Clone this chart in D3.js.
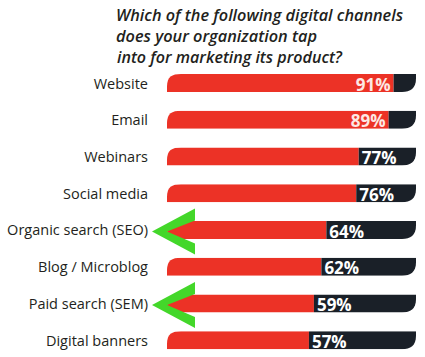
<!DOCTYPE html>
<html>
<head>
<meta charset="utf-8">
<script src="https://cdn.jsdelivr.net/npm/d3@7/dist/d3.min.js"></script>
<style>
html,body{margin:0;padding:0;background:#fff;}
svg{display:block;}
</style>
</head>
<body>
<svg id="chart" width="425" height="357"></svg>
<script>
const titleLines = [
  "Which of the following digital channels",
  "does your organization tap",
  "into for marketing its product?"
];
const categories = ["Website","Email","Webinars","Social media","Organic search (SEO)","Blog / Microblog","Paid search (SEM)","Digital banners"];
const values = [91, 89, 77, 76, 64, 62, 59, 57];
const highlighted = ["Organic search (SEO)", "Paid search (SEM)"];
const tickLabels = values.map(v => v + "%");

const svg = d3.select("#chart");
const RED = "#ec3226", DARK = "#1a2028", GREEN = "#43d72a";

// title
const titleWidths = [287, 201, 225];
const titleX = [116, 116, 117];
const titleY = [21, 42, 63];
svg.selectAll("text.title").data(titleLines).join("text")
  .attr("class","title")
  .attr("x",(d,i)=>titleX[i]).attr("y",(d,i)=>titleY[i])
  .attr("textLength",(d,i)=>titleWidths[i])
  .attr("lengthAdjust","spacingAndGlyphs")
  .style("font-family","'Open Sans', sans-serif")
  .style("font-style","italic").style("font-weight","600")
  .style("font-size","15.3px").style("fill","#231f20")
  .text(d=>d);

const x = d3.scaleLinear().domain([0,100]).range([167,416]);
const y = d3.scaleBand().domain(categories).range([74, 349.25]).paddingInner(0.51).paddingOuter(0);
const bh = y.bandwidth();

function barPath(y0){
  const x0 = x(0), x1 = x(100), y1 = y0 + bh;
  const rx = 14;
  return `M${x0},${y1} L${x0},${y0+bh*0.7} C${x0},${y0+bh*0.15} ${x0+rx*0.35},${y0} ${x0+rx},${y0} L${x1},${y0} L${x1},${y0+bh*0.25} C${x1},${y1-bh*0.2} ${x1-rx*0.4},${y1} ${x1-rx},${y1} Z`;
}

const defs = svg.append("defs");
categories.forEach((c,i)=>{
  defs.append("clipPath").attr("id","clip"+i).append("path").attr("d", barPath(y(c)));
});

const rows = svg.selectAll("g.row").data(categories.map((c,i)=>({c, v:values[i], i, lab:tickLabels[i]})))
  .join("g").attr("class","row");

rows.append("rect").attr("clip-path",d=>`url(#clip${d.i})`)
  .attr("x",x(0)).attr("y",d=>y(d.c)).attr("width",d=>x(d.v)-x(0)).attr("height",bh).attr("fill",RED);
rows.append("rect").attr("clip-path",d=>`url(#clip${d.i})`)
  .attr("x",d=>x(d.v)).attr("y",d=>y(d.c)).attr("width",d=>x(100)-x(d.v)).attr("height",bh).attr("fill",DARK);

// category labels
rows.append("text")
  .attr("x",148).attr("y",d=>y(d.c)+bh/2+5.5)
  .attr("text-anchor","end")
  .style("font-family","'Open Sans', sans-serif").style("font-size","14.5px").style("fill","#231f20")
  .text(d=>d.c);

// value labels
rows.append("text")
  .attr("x",d=> d.v >= 85 ? x(d.v)-3 : x(d.v)+3)
  .attr("y",d=>y(d.c)+bh-1.5)
  .attr("text-anchor",d=> d.v >= 85 ? "end" : "start")
  .style("font-family","'Open Sans', sans-serif").style("font-weight","700").style("font-size","17px")
  .style("fill",d=> d.v >= 85 ? "#fde8e4" : "#ffffff")
  .text(d=>d.lab);

// green chevrons
rows.filter(d=>highlighted.includes(d.c)).append("path")
  .attr("d",d=>{
    const cy = y(d.c)+bh/2+1.5;
    return `M152,${cy} L195,${cy-23} L195,${cy-11} L167,${cy} L195,${cy+12} L195,${cy+23} Z`;
  })
  .attr("fill",GREEN);
</script>
</body>
</html>
